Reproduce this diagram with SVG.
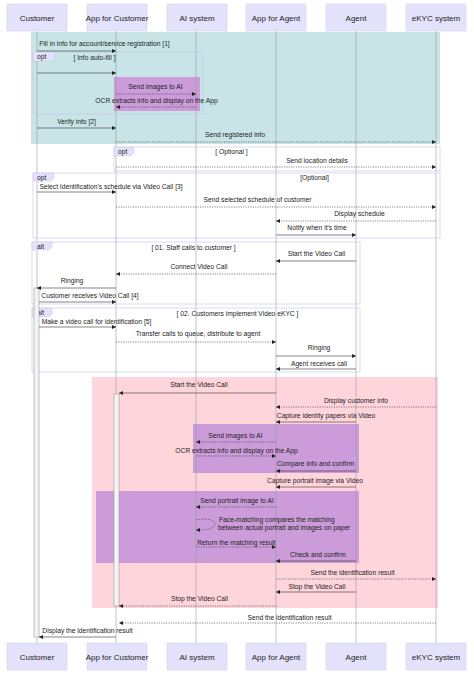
<svg xmlns="http://www.w3.org/2000/svg" width="474" height="676" viewBox="0 0 474 676">
<defs>
<marker id="ah" viewBox="0 0 6 6" refX="6" refY="3" markerWidth="4" markerHeight="4" markerUnits="userSpaceOnUse" orient="auto"><path d="M0,0 L6,3 L0,6 z" fill="#222"/></marker>
<style>
.actor rect{fill:#E4E2FA;stroke:#D4D2F0;stroke-width:0.6}
.actor text{font-family:"Liberation Sans",Arial,sans-serif;font-size:8px;fill:#222;text-anchor:middle}
.life{stroke:#9a9aa6;stroke-width:0.6}
.frame{fill:none;stroke:#C4C4EA;stroke-width:0.6}
.tab{fill:#E4E2FA;stroke:#C4C4EA;stroke-width:0.5}
.t{font-family:"Liberation Sans",Arial,sans-serif;font-size:6.7px;fill:#222;text-anchor:middle}
.ts{font-family:"Liberation Sans",Arial,sans-serif;font-size:6.7px;fill:#222;text-anchor:start}
.m{stroke:#333;stroke-width:0.6;fill:none;marker-end:url(#ah)}
.d{stroke:#333;stroke-width:0.6;fill:none;stroke-dasharray:1.2,1.2;marker-end:url(#ah)}
.act{fill:#f4f4f4;stroke:#999;stroke-width:0.6}
</style>
</defs>
<rect width="474" height="676" fill="#fff"/>
<g id="backgrounds">
<rect x="31" y="32" width="409" height="112" fill="#C8E4E6"/>
<rect x="114" y="77" width="86" height="34" fill="#CB9CD9"/>
<rect x="92" y="377" width="346" height="231" fill="#FFD5DC"/>
<rect x="193" y="424" width="166" height="49" fill="#CB9CD9"/>
<rect x="96" y="491" width="263" height="72" fill="#CB9CD9"/>
</g>
<g id="lifelines">
<line class="life" x1="37" y1="31" x2="37" y2="643"/>
<line class="life" x1="116" y1="31" x2="116" y2="643"/>
<line class="life" x1="196" y1="31" x2="196" y2="643"/>
<line class="life" x1="276" y1="31" x2="276" y2="643"/>
<line class="life" x1="356" y1="31" x2="356" y2="643"/>
<line class="life" x1="436" y1="31" x2="436" y2="643"/>
</g>
<g id="frames">
<rect class="frame" x="33" y="52" width="170" height="62"/>
<polygon class="tab" points="33,52 55,52 55,58 52,61 33,61"/>
<text class="ts" x="37" y="59">opt</text>
<text class="t" x="94.5" y="60.4">[ Info auto-fill ]</text>
<rect class="frame" x="114" y="147" width="326" height="24"/>
<polygon class="tab" points="114,147 134,147 134,153 131,156 114,156"/>
<text class="ts" x="118" y="154">opt</text>
<text class="t" x="231.5" y="154.4">[ Optional ]</text>
<rect class="frame" x="33" y="173" width="407" height="65"/>
<polygon class="tab" points="33,173 54,173 54,178 51,181 33,181"/>
<text class="ts" x="37" y="179.5">opt</text>
<text class="t" x="314.5" y="180.4">[Optional]</text>
<rect class="frame" x="32" y="242" width="328" height="62"/>
<polygon class="tab" points="32,242 52,242 52,247 49,250 32,250"/>
<text class="ts" x="37" y="248.5">alt</text>
<text class="t" x="193.5" y="250.4">[ 01. Staff calls to customer ]</text>
<rect class="frame" x="32" y="308" width="328" height="64"/>
<polygon class="tab" points="32,308 52,308 52,314 49,317 32,317"/>
<text class="ts" x="37" y="315">alt</text>
<text class="t" x="237.5" y="316.4">[ 02. Customers implement Video eKYC ]</text>
</g>
<g id="activations">
<rect class="act" x="34" y="288" width="5" height="349"/>
<rect class="act" x="114" y="394" width="5" height="212"/>
</g>
<g id="connectors">
<line class="m" x1="37" y1="51" x2="116" y2="51"/>
<text class="t" x="104.5" y="46.4">Fill in info for account/service registration [1]</text>
<line class="m" x1="37" y1="73" x2="116" y2="73"/>
<line class="d" x1="116" y1="94" x2="196" y2="94"/>
<text class="t" x="155.5" y="89.4">Send images to AI</text>
<line class="d" x1="196" y1="107" x2="116" y2="107"/>
<text class="t" x="156.5" y="103.4">OCR extracts info and display on the App</text>
<line class="m" x1="37" y1="128" x2="116" y2="128"/>
<text class="t" x="76.5" y="124.4">Verify info [2]</text>
<line class="d" x1="116" y1="142" x2="436" y2="142"/>
<text class="t" x="235" y="137.4">Send registered info</text>
<line class="d" x1="116" y1="167" x2="436" y2="167"/>
<text class="t" x="317" y="163.4">Send location details</text>
<line class="m" x1="37" y1="192" x2="116" y2="192"/>
<text class="t" x="111" y="189.4">Select Identification's schedule via Video Call [3]</text>
<line class="d" x1="116" y1="207" x2="436" y2="207"/>
<text class="t" x="257.5" y="202.4">Send selected schedule of customer</text>
<line class="d" x1="436" y1="221" x2="276" y2="221"/>
<text class="t" x="359.5" y="216.4">Display schedule</text>
<line class="m" x1="276" y1="235" x2="356" y2="235"/>
<text class="t" x="317" y="230.4">Notify when it's time</text>
<line class="m" x1="356" y1="261" x2="276" y2="261"/>
<text class="t" x="316.5" y="256.4">Start the Video Call</text>
<line class="d" x1="276" y1="274" x2="116" y2="274"/>
<text class="t" x="199" y="269.4">Connect Video Call</text>
<line class="m" x1="116" y1="288" x2="37" y2="288"/>
<text class="t" x="72" y="283.4">Ringing</text>
<line class="m" x1="39" y1="302" x2="116" y2="302"/>
<text class="t" x="90" y="298.4">Customer receives Video Call [4]</text>
<line class="m" x1="39" y1="327" x2="116" y2="327"/>
<text class="t" x="96.5" y="324.4">Make a video call for identification [5]</text>
<line class="d" x1="116" y1="342" x2="276" y2="342"/>
<text class="t" x="198" y="336.4">Transfer calls to queue, distribute to agent</text>
<line class="m" x1="276" y1="356" x2="356" y2="356"/>
<text class="t" x="319" y="350.4">Ringing</text>
<line class="m" x1="356" y1="369" x2="276" y2="369"/>
<text class="t" x="319" y="366.4">Agent receives call</text>
<line class="m" x1="276" y1="393" x2="119" y2="393"/>
<text class="t" x="199" y="387.4">Start the Video Call</text>
<line class="d" x1="436" y1="407" x2="276" y2="407"/>
<text class="t" x="356" y="403.4">Display customer info</text>
<line class="m" x1="356" y1="422" x2="276" y2="422"/>
<text class="t" x="326" y="418.4">Capture identity papers via Video</text>
<line class="d" x1="276" y1="442" x2="196" y2="442"/>
<text class="t" x="235.5" y="438.4">Send images to AI</text>
<line class="d" x1="196" y1="456" x2="276" y2="456"/>
<text class="t" x="236.5" y="453.4">OCR extracts info and display on the App</text>
<line class="m" x1="356" y1="471" x2="276" y2="471"/>
<text class="t" x="315.5" y="466.4">Compare info and confirm</text>
<line class="m" x1="356" y1="487" x2="276" y2="487"/>
<text class="t" x="315" y="483.4">Capture portrait image via Video</text>
<line class="d" x1="276" y1="507" x2="196" y2="507"/>
<text class="t" x="237" y="503.4">Send portrait image to AI</text>
<path class="d" d="M196,520 C210,517 218,522 214,526 C211,530 204,530 196,530"/>
<text class="ts" x="219" y="522.4">Face-matching compares the matching</text>
<text class="ts" x="218" y="529.8">between actual portrait and images on paper</text>
<line class="d" x1="196" y1="547" x2="276" y2="547"/>
<text class="t" x="236.5" y="545.4">Return the matching result</text>
<line class="m" x1="356" y1="561" x2="276" y2="561"/>
<text class="t" x="318" y="557.4">Check and confirm</text>
<line class="d" x1="276" y1="579" x2="436" y2="579"/>
<text class="t" x="352.5" y="575.4">Send the identification result</text>
<line class="m" x1="356" y1="592" x2="276" y2="592"/>
<text class="t" x="317" y="589.4">Stop the Video Call</text>
<line class="d" x1="276" y1="606" x2="119" y2="606"/>
<text class="t" x="199.5" y="601.4">Stop the Video Call</text>
<line class="d" x1="436" y1="623" x2="119" y2="623"/>
<text class="t" x="289.5" y="620.4">Send the identification result</text>
<line class="m" x1="116" y1="637" x2="39" y2="637"/>
<text class="t" x="87.5" y="633.4">Display the identification result</text>
</g>
<g id="actor-customer" class="actor"><rect x="7" y="4" width="60" height="27"/><text x="37" y="20.5">Customer</text><rect x="7" y="643" width="60" height="27"/><text x="37" y="659.5">Customer</text></g>
<g id="actor-appcustomer" class="actor"><rect x="87" y="4" width="60" height="27"/><text x="117" y="20.5">App for Customer</text><rect x="87" y="643" width="60" height="27"/><text x="117" y="659.5">App for Customer</text></g>
<g id="actor-ai" class="actor"><rect x="167" y="4" width="60" height="27"/><text x="197" y="20.5">AI system</text><rect x="167" y="643" width="60" height="27"/><text x="197" y="659.5">AI system</text></g>
<g id="actor-appagent" class="actor"><rect x="246" y="4" width="60" height="27"/><text x="276" y="20.5">App for Agent</text><rect x="246" y="643" width="60" height="27"/><text x="276" y="659.5">App for Agent</text></g>
<g id="actor-agent" class="actor"><rect x="326" y="4" width="60" height="27"/><text x="356" y="20.5">Agent</text><rect x="326" y="643" width="60" height="27"/><text x="356" y="659.5">Agent</text></g>
<g id="actor-ekyc" class="actor"><rect x="406" y="4" width="60" height="27"/><text x="436" y="20.5">eKYC system</text><rect x="406" y="643" width="60" height="27"/><text x="436" y="659.5">eKYC system</text></g>
</svg>
